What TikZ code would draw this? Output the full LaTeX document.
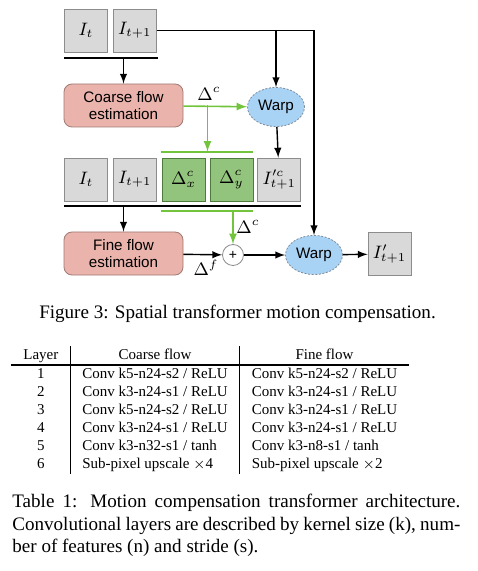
\documentclass[tikz,border=0pt]{standalone}
\usepackage{amsmath}
\usepackage[no-math]{fontspec}
\setmainfont{Liberation Serif}
\newfontfamily\figsans{Liberation Sans}
\usepackage{xcolor}
\usepackage{tikz}
\usetikzlibrary{shapes.geometric, arrows, positioning, calc}

\definecolor{imgfill}{HTML}{D9D9D9}
\definecolor{imgline}{HTML}{8C8C8C}
\definecolor{deltafill}{HTML}{93C47D}
\definecolor{deltaline}{HTML}{4F7A3D}
\definecolor{flowfill}{HTML}{EAB3AB}
\definecolor{flowline}{HTML}{A07A74}
\definecolor{warpfill}{HTML}{A9D3F5}
\definecolor{warpline}{HTML}{7D8C9B}
\definecolor{arrowgreen}{HTML}{72C43C}
\setlength{\arrayrulewidth}{0.6pt}

\begin{document}
\begin{tikzpicture}[
    x=0.5pt, y=-0.5pt,
    imgbox/.style={rectangle, draw=imgline, fill=imgfill, minimum width=21.5pt, minimum height=21.5pt, inner sep=0pt, font=\fontsize{9}{10}\selectfont},
    deltabox/.style={imgbox, draw=deltaline, fill=deltafill},
    flowbox/.style={rectangle, rounded corners=4pt, draw=flowline, fill=flowfill, minimum width=59.5pt, minimum height=21.5pt, align=center, font=\figsans\fontsize{7.6}{8.8}\selectfont},
    warpnode/.style={ellipse, draw=warpline, dash pattern=on 1pt off 0.8pt, fill=warpfill, minimum width=28.5pt, minimum height=19.5pt, inner sep=0pt, font=\figsans\fontsize{7.6}{8.8}\selectfont},
    sumnode/.style={circle, draw=imgline, fill=white, minimum size=10.5pt, inner sep=0pt, font=\figsans\fontsize{7}{8}\selectfont},
    lbl/.style={inner sep=0pt, font=\fontsize{9}{10}\selectfont},
    arrow/.style={->, >=latex, line width=0.7pt},
    garrow/.style={->, >=latex, line width=0.8pt, draw=arrowgreen, fill=arrowgreen},
    barline/.style={line width=1pt},
    gbarline/.style={line width=1pt, draw=arrowgreen}
]
\useasboundingbox (0,0) rectangle (477,571);

% Input frames
\node[imgbox] (it) at (86,30.5) {$I_t$};
\node[imgbox, right=2.5pt of it] (itp) {$I_{t+1}$};
\coordinate (bar1) at ($(it.south west)+(0,6)$);
\draw[barline] (bar1) -- ($(itp.south east)+(1,6)$);

% Coarse flow
\node[flowbox] (coarse) at (123.5,105.5) {Coarse flow\\estimation};
\node[warpnode] (warp1) at (276,107) {Warp};
\node[lbl] (dc1) at (209,94) {$\Delta^c$};

% Stacked input of the fine flow
\node[imgbox] (it2) at (86,179.5) {$I_t$};
\node[imgbox, right=2.5pt of it2] (itp2) {$I_{t+1}$};
\node[deltabox, right=2.5pt of itp2] (dx) {$\Delta^c_x$};
\node[deltabox, right=2pt of dx] (dy) {$\Delta^c_y$};
\node[imgbox, right=2pt of dy] (icp) {$I'^{c}_{t+1}$};
\coordinate (gbar1) at ($(dx.north west)!0.5!(dy.north east)+(0,-6)$);
\coordinate (bar2) at ($(it2.south west)+(0,5)$);
\coordinate (gbar2) at ($(dx.south west)!0.5!(dy.south east)+(0,10)$);
\draw[gbarline] ($(dx.north west)+(-1,-6)$) -- ($(dy.north east)+(0,-6)$);
\draw[barline] (bar2) -- ($(icp.south east)+(0,5)$);
\draw[gbarline] ($(dx.south west)+(-1,10)$) -- ($(dy.south east)+(0,10)$);

% Fine flow
\node[flowbox] (fine) at (123.5,253.5) {Fine flow\\estimation};
\node[sumnode] (plus) at (233,255) {+};
\node[warpnode] (warp2) at (314,255) {Warp};
\node[imgbox] (out) at (389.5,254) {$I'_{t+1}$};
\node[lbl] (dc2) at (248,227) {$\Delta^c$};
\node[lbl] (df) at (206,268) {$\Delta^f$};

% Arrows
\draw[arrow] (coarse |- bar1) -- (coarse);
\draw[arrow] (itp.east) -| (warp2.north);
\draw[arrow] (itp -| warp1) -- (warp1);
\draw[garrow] (coarse) -- (warp1);
\draw[garrow] (coarse -| gbar1) -- (gbar1);
\draw[arrow] (warp1) -- (icp);
\draw[arrow] (fine |- bar2) -- (fine);
\draw[garrow] (plus |- gbar2) -- (plus);
\draw[arrow] (fine) -- (plus);
\draw[arrow] (plus) -- (warp2);
\draw[arrow] (warp2) -- (out);

% Captions and table
\node[anchor=base] (figcap) at (237.5,318) {\fontsize{9.53}{11}\selectfont Figure 3: Spatial transformer motion compensation.};
\node[anchor=north west, inner sep=0pt] (arch) at (11,346) {\fontsize{7.5}{9}\selectfont
\begin{tabular}{c|l|l}
Layer & \multicolumn{1}{c|}{Coarse flow} & \multicolumn{1}{c}{Fine flow}\\
\hline
1 & Conv k5-n24-s2 / ReLU & Conv k5-n24-s2 / ReLU\\
2 & Conv k3-n24-s1 / ReLU & Conv k3-n24-s1 / ReLU\\
3 & Conv k5-n24-s2 / ReLU & Conv k3-n24-s1 / ReLU\\
4 & Conv k3-n24-s1 / ReLU & Conv k3-n24-s1 / ReLU\\
5 & Conv k3-n32-s1 / tanh & Conv k3-n8-s1 / tanh\\
6 & Sub-pixel upscale $\times$4 & Sub-pixel upscale $\times$2
\end{tabular}};
\node[anchor=north west, inner sep=0pt, text width=224pt, align=justify, font=\fontsize{9.53}{11.25}\selectfont] (tabcap) at (12,494) {Table 1: Motion compensation transformer architecture.\linebreak Convolutional layers are described by kernel size (k), num-\linebreak ber of features (n) and stride (s).};

\end{tikzpicture}
\end{document}
